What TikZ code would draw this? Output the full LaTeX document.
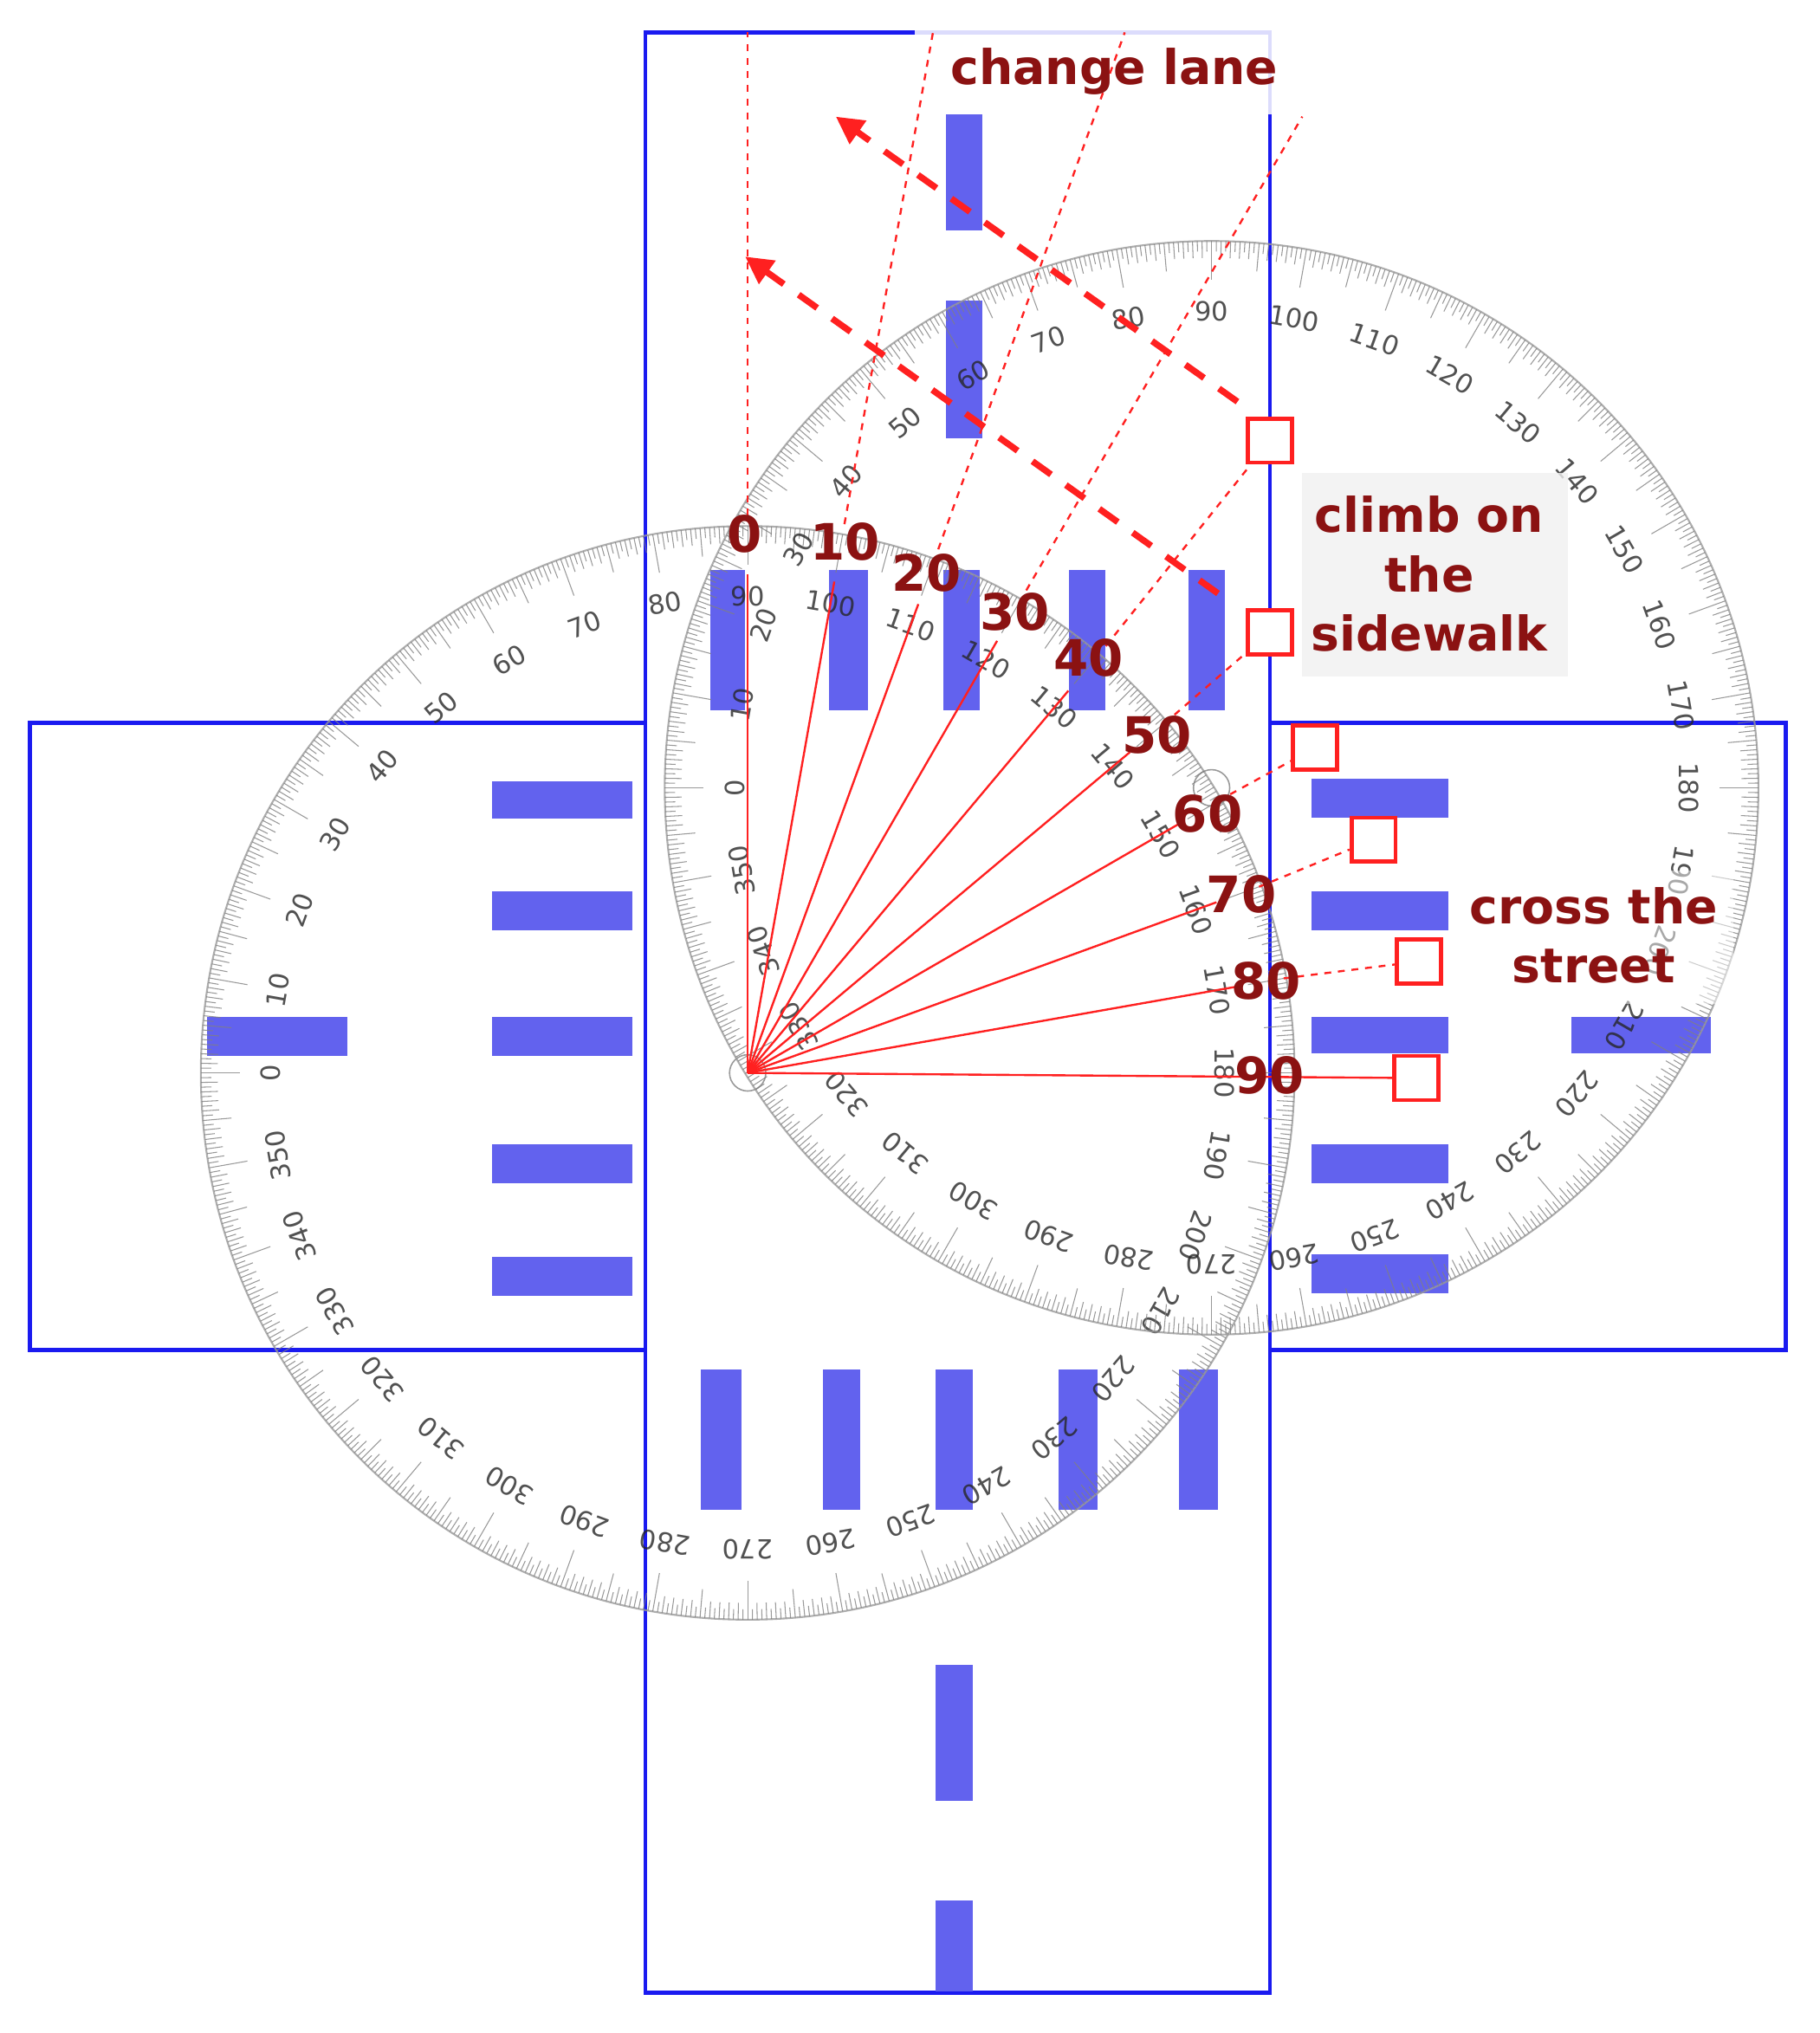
\documentclass[tikz,border=0pt]{standalone}
\usepackage{fontspec}
\setmainfont{DejaVu Sans}
\usetikzlibrary{arrows.meta}
\definecolor{rb}{HTML}{1A1AF0}
\definecolor{lm}{HTML}{6262EE}
\definecolor{rr}{HTML}{FF2020}
\definecolor{dr}{HTML}{8B1212}
\tikzset{
 road/.style={draw=rb,line width=0.9pt},
 lane/.style={fill=lm,draw=none},
 ray/.style={draw=rr,line width=0.45pt},
 dot/.style={draw=rr,line width=0.45pt,dash pattern=on 1.5pt off 1.5pt},
 box/.style={draw=rr,fill=white,line width=0.9pt,minimum size=0.34cm,inner sep=0pt},
 big/.style={draw=rr,line width=1.4pt,dash pattern=on 5pt off 4pt,-{Triangle[length=6pt,width=6pt]}},
 num/.style={text=dr,font=\bfseries\fontsize{11}{12}\selectfont,inner sep=0pt},
 lab/.style={text=dr,font=\bfseries\fontsize{10.5}{13}\selectfont,align=center},
 plab/.style={text=black!85,font=\fontsize{5.8}{6}\selectfont,inner sep=0pt},
}
\newcommand\myprot[1]{%
 \begin{scope}[shift={(#1)},opacity=0.8]
  \draw[black!40,line width=0.4pt] (0,0) circle (422);
  \foreach \a in {0,0.5,...,359.5}{%
   \pgfmathsetmacro\l{ifthenelse(mod(\a,10)==0,30,ifthenelse(mod(\a,5)==0,22,ifthenelse(mod(\a,1)==0,13,8)))}
   \draw[black!50,line width=0.2pt] (\a:422) -- (\a:{422-\l});}
  \foreach \t in {0,10,...,350}{%
   \node[plab,rotate=90-\t] at ({180+\t}:368) {\t};}
  \draw[black!50,line width=0.3pt] (0,0) circle (14);
 \end{scope}}
\begin{document}
\begin{tikzpicture}[x=0.01cm,y=-0.01cm]
\useasboundingbox (0,0) rectangle (1404,1569);
\fill[white] (0,0) rectangle (1404,1569);
% roads
\draw[road] (498,25) rectangle (980,1538);
\draw[road] (498,558) -- (23,558) -- (23,1042) -- (498,1042);
\draw[road] (980,558) -- (1378,558) -- (1378,1042) -- (980,1042);
% lane markings
\foreach \x/\y/\w/\h in {730/88/28/90,730/232/28/106,
 548/440/27/108,640/440/30/108,728/440/28/108,825/440/28/108,917/440/28/108,
 541/1057/31/108,635/1057/29/108,722/1057/29/108,817/1057/30/108,910/1057/30/108,
 722/1285/29/105,722/1467/29/70,
 380/603/108/29,380/688/108/30,380/785/108/30,380/883/108/30,380/970/108/30,160/785/108/30,
 1012/601/106/30,1012/688/106/30,1012/785/106/28,1012/883/106/30,1012/968/106/30,1213/785/107/28}
 \fill[lane] (\x,\y) rectangle ++(\w,\h);
% protractors
\coordinate (O) at (577,828);
\coordinate (P) at (935,608);
\myprot{O}
\myprot{P}
% label backgrounds
\fill[white,opacity=0.85] (706,22) rectangle (1008,88);
\fill[black!6,opacity=0.8] (1005,365) rectangle (1210,522);
\fill[white,opacity=0.5] (1122,672) rectangle (1338,775);
% rays
\foreach \p in {0,10,...,80} \draw[ray] (O) -- ++({\p-90}:385);
\draw[dot] (O) ++(-90:430) -- (577,25);
\draw[dot] (O) ++(-80:430) -- (720,25);
\draw[dot] (O) ++(-70:430) -- (868,25);
\draw[dot] (O) ++(-60:430) -- (1005,90);
% boxes
\node[box] (b40) at (980,340) {};
\node[box] (b50) at (980,488) {};
\node[box] (b60) at (1015,577) {};
\node[box] (b70) at (1060,648) {};
\node[box] (b80) at (1095,742) {};
\node[box] (b90) at (1093,832) {};
\draw[dot] (O) ++(-50:430) -- (b40);
\draw[dot] (O) ++(-40:430) -- (b50);
\draw[dot] (O) ++(-30:430) -- (b60);
\draw[dot] (O) ++(-20:420) -- (b70);
\draw[dot] (O) ++(-10:420) -- (b80);
\draw[ray] (O) -- (b90);
% numbers
\foreach \n/\x/\y in {0/575/412,10/652/418,20/715/442,30/783/472,40/840/508,50/893/567,60/932/628,70/958/690,80/977/757,90/980/830}
 \node[num] (n\n) at (\x,\y) {\n};
% big dashed arrows
\coordinate (a1s) at (940,458); \coordinate (a1e) at (575,198);
\coordinate (a2s) at (955,310); \coordinate (a2e) at (645,90);
\draw[big] (a1s) -- (a1e);
\draw[big] (a2s) -- (a2e);
% labels
\node[lab] (cl) at (860,55) {change lane};
\node[lab] (cs) at (1103,443) {climb on\\the\\sidewalk};
\node[lab] (ct) at (1230,722) {cross the\\street};
\end{tikzpicture}
\end{document}
